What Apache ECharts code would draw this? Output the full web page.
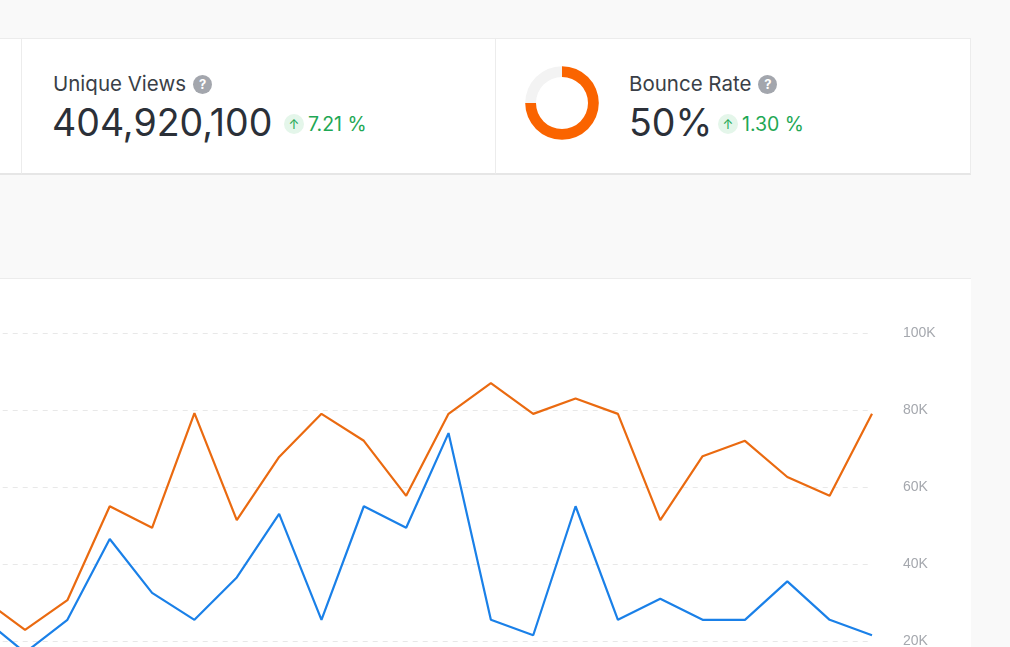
<!DOCTYPE html>
<html>
<head>
<meta charset="utf-8">
<script src="https://cdn.jsdelivr.net/npm/echarts@6/dist/echarts.min.js"></script>
<style>
  body { margin: 0; width: 1010px; height: 647px; overflow: hidden; background: #f9f9f9; font-family: Inter, 'Noto Sans', sans-serif; position: relative; }
  .card { position: absolute; top: 38px; height: 137px; background: #fff; border: 1px solid #ececec; border-bottom: 2px solid #e6e6e6; box-sizing: border-box; }
  .title { position: absolute; font-size: 20.5px; color: #3a3f47; }
  .q { display: inline-block; width: 19px; height: 19px; border-radius: 50%; background: #a3a6ad; color: #fff; font-size: 13px; font-weight: 700; text-align: center; line-height: 19px; vertical-align: 2px; margin-left: 7px; }
  .big { position: absolute; font-size: 37.5px; color: #2b3038; }
  .delta { position: absolute; font-size: 19.5px; color: #1fa855; }
  .arr { display: inline-block; width: 20px; height: 20px; border-radius: 50%; background: #e4f6ea; text-align: center; line-height: 20px; font-size: 13px; margin-right: 4px; vertical-align: 2px; }
  #panel { position: absolute; left: 0; top: 278px; width: 971px; height: 400px; background: #fff; border-top: 1px solid #ececec; }
  #line { position: absolute; left: -60px; top: 278px; width: 1031px; height: 500px; }
  #donut { position: absolute; left: 522px; top: 63px; width: 80px; height: 80px; }
</style>
</head>
<body>
<div class="card" style="left:-20px;width:42px;"></div>
<div class="card" style="left:21px;width:475px;">
  <div class="title" style="left:31px;top:32px;">Unique Views<span class="q">?</span></div>
  <div class="big" style="left:30px;top:61px;">404,920,100</div>
  <div class="delta" style="left:262px;top:73px;"><span class="arr">↑</span>7.21 %</div>
</div>
<div class="card" style="left:495px;width:476px;">
  <div class="title" style="left:133px;top:32px;">Bounce Rate<span class="q">?</span></div>
  <div class="big" style="left:133px;top:61px;">50%</div>
  <div class="delta" style="left:222px;top:73px;"><span class="arr">↑</span>1.30 %</div>
</div>
<div id="donut"></div>
<div id="panel"></div>
<div id="line"></div>
<script>
// 数据
const days = ['1', '2', '3', '4', '5', '6', '7', '8', '9', '10', '11', '12', '13', '14', '15', '16', '17', '18', '19', '20', '21', '22']
const orangeValues = [31000, 22900, 30600, 55000, 49400, 79200, 51400, 67800, 79000, 72000, 57700, 79000, 87000, 79000, 83000, 79000, 51400, 68000, 72000, 62600, 57700, 79000]
const blueValues = [26000, 17000, 25500, 46500, 32500, 25500, 36500, 53000, 25500, 55000, 49400, 74000, 25500, 21500, 55000, 25500, 31000, 25500, 25500, 35500, 25500, 21500]
const donutValues = [75, 25]

const donut = echarts.init(document.querySelector('#donut'))
donut.setOption({
  series: [{
    type: 'pie',
    radius: ['65%', '92%'],
    center: ['50%', '50%'],
    startAngle: 90,
    clockwise: true,
    silent: true,
    label: { show: false },
    data: [
      { value: donutValues[0], itemStyle: { color: '#fa6400' } },
      { value: donutValues[1], itemStyle: { color: '#f3f3f3' } },
    ],
  }],
})

const myLine = echarts.init(document.querySelector('#line'))
myLine.setOption({
  animation: false,
  grid: { left: 42.7, right: 99, top: 55, bottom: 60 },
  xAxis: {
    type: 'category',
    data: days,
    boundaryGap: false,
    show: false,
  },
  yAxis: {
    type: 'value',
    position: 'right',
    min: 0,
    max: 100000,
    interval: 20000,
    axisLine: { show: false },
    axisTick: { show: false },
    axisLabel: {
      margin: 31,
      color: '#a5a8ae',
      fontSize: 14,
      formatter: v => (v === 0 ? '' : v / 1000 + 'K'),
    },
    splitLine: { lineStyle: { type: [5, 5], color: '#e8e8e8' } },
  },
  series: [
    { type: 'line', data: orangeValues, symbol: 'none', lineStyle: { color: '#ea6a10', width: 2.2 } },
    { type: 'line', data: blueValues, symbol: 'none', lineStyle: { color: '#1a80e8', width: 2.2 } },
  ],
})
</script>
</body>
</html>
